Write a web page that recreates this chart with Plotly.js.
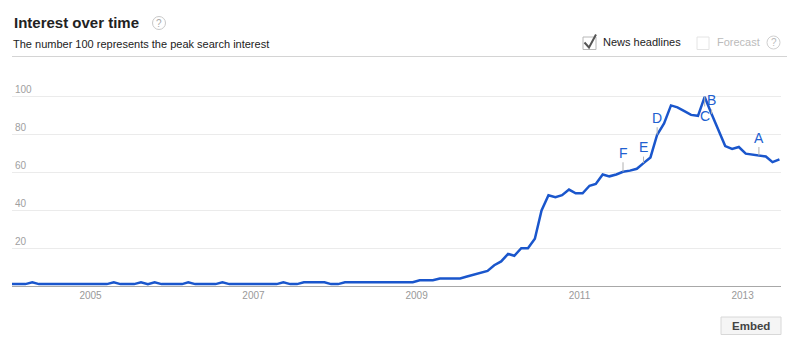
<!DOCTYPE html>
<html><head><meta charset="utf-8">
<script src="https://cdn.plot.ly/plotly-3.0.1.min.js"></script>
<style>html,body{margin:0;padding:0;background:#fff;} #chart{width:809px;height:353px;}</style>
</head><body><div id="chart"></div>
<script>
// ---- data (monthly search interest) ----
const firstYear = 2004;
const values2004 = [1,1,1,2,1,1,1,1,1,1,1,1];
const values2005 = [1,1,1,2,1,1,1,2,1,2,1,1];
const values2006 = [1,1,2,1,1,1,1,2,1,1,1,1];
const values2007 = [1,1,1,1,2,1,1,2,2,2,2,1];
const values2008 = [1,2,2,2,2,2,2,2,2,2,2,2];
const values2009 = [3,3,3,4,4,4,4,5,6,7,8,11];
const values2010 = [13,17,16,20,20,25,40,48,47,48,51,49];
const values2011 = [49,53,54,59,58,59,60.4,61,62,65,68,80];
const values2012 = [86,95.5,94.5,92.5,90.5,90,100,91,82.5,74,72.5,73.5];
const values2013 = [70,69.5,69,68.5,65.5,67];
const yearlyValues = [values2004,values2005,values2006,values2007,values2008,values2009,values2010,values2011,values2012,values2013];
const xTickYears = ['2005','2007','2009','2011','2013'];
const yTickValues = [20,40,60,80,100];
const eventLetters = ['A','B','C','D','E','F'];
const eventMonths  = ['2013-03','2012-08','2012-07','2011-12','2011-10','2011-07'];

// ---- build series ----
const pad = n => (n < 10 ? '0' : '') + n;
const months = [], values = [];
yearlyValues.forEach((arr, yi) => {
  arr.forEach((v, mi) => {
    months.push((firstYear + yi) + '-' + pad(mi + 1) + '-15');
    values.push(v);
  });
});

// ---- layout geometry ----
const W = 809, H = 353, L = 12, R = 28, T = 78, B = 67;
const PW = W - L - R, PH = H - T - B;
const px = x => (x - L) / PW;
const py = y => (H - B - y) / PH;

const lineColor = '#1a56cc';
const fontFam = 'Arial, "Liberation Sans", sans-serif';

const eventOffsets = {A:-18, B:-14, C:19, D:-17, E:-16, F:-19};
const annotations = [];
eventLetters.forEach((letter, k) => {
  const d = eventMonths[k] + '-15';
  const idx = months.indexOf(d);
  annotations.push({
    x: d, y: values[idx], xref: 'x', yref: 'y', text: letter,
    showarrow: true, arrowhead: 0, arrowwidth: 1, arrowcolor: '#b0b0b0',
    ax: 0, ay: eventOffsets[letter], standoff: 0,
    font: {family: fontFam, size: 14, color: '#2160d0'}
  });
});

function txt(x, y, text, size, color, bold, anchor) {
  annotations.push({
    xref: 'paper', yref: 'paper', x: px(x), y: py(y), text: bold ? '<b>' + text + '</b>' : text,
    showarrow: false, xanchor: anchor || 'left', yanchor: 'middle',
    font: {family: fontFam, size: size, color: color}
  });
}
txt(12, 22, 'Interest over time', 15, '#222', true);
txt(159, 23, '?', 10, '#aaa', false, 'center');
txt(11, 44, 'The number 100 represents the peak search interest', 11, '#222', false);
txt(601, 42, 'News headlines', 11, '#222', false);
txt(715, 42, 'Forecast', 11, '#bbb', false);
txt(773.5, 42.5, '?', 10, '#bbb', false, 'center');
txt(751, 326, 'Embed', 11.5, '#444', true, 'center');

const shapes = [
  {type:'line', xref:'paper', yref:'paper', x0:px(12), x1:px(787), y0:py(56.5), y1:py(56.5), line:{color:'#d4d4d4', width:1}},
  {type:'circle', xref:'paper', yref:'paper', x0:px(152.5), x1:px(165.5), y0:py(16.5), y1:py(29.5), line:{color:'#c8c8c8', width:1}},
  {type:'rect', xref:'paper', yref:'paper', x0:px(583), x1:px(596), y0:py(37), y1:py(49.5), line:{color:'#b8b8b8', width:1}, fillcolor:'#fff'},
  {type:'path', xref:'paper', yref:'paper',
   path:'M '+px(584.5)+' '+py(42.5)+' L '+px(589)+' '+py(47.5)+' L '+px(596)+' '+py(34.5),
   line:{color:'#555', width:2}},
  {type:'rect', xref:'paper', yref:'paper', x0:px(697), x1:px(709), y0:py(37), y1:py(49.5), line:{color:'#e4e4e4', width:1}, fillcolor:'#fff'},
  {type:'circle', xref:'paper', yref:'paper', x0:px(767), x1:px(780), y0:py(36), y1:py(49), line:{color:'#d0d0d0', width:1}},
  {type:'rect', xref:'paper', yref:'paper', x0:px(721), x1:px(781), y0:py(317), y1:py(334.5), line:{color:'#d8d8d8', width:1}, fillcolor:'#f5f5f5', layer:'below'}
];

const trace = {
  x: months, y: values, type: 'scatter', mode: 'lines',
  line: {color: lineColor, width: 2.5}, hoverinfo: 'skip'
};

const layout = {
  width: W, height: H,
  margin: {l: L, r: R, t: T, b: B},
  paper_bgcolor: '#fff', plot_bgcolor: '#fff',
  showlegend: false,
  font: {family: fontFam},
  xaxis: {
    type: 'date', range: ['2004-01-15', '2013-06-22'],
    tickvals: xTickYears.map(y => y + '-01-01'), ticktext: xTickYears,
    showgrid: false, zeroline: false, showline: true, linecolor: '#a8a8a8', linewidth: 1,
    ticks: '', tickfont: {size: 10, color: '#999'}, fixedrange: true
  },
  yaxis: {
    range: [0, 110], tickvals: yTickValues, ticktext: yTickValues.map(String),
    showgrid: true, gridcolor: '#ebebeb', gridwidth: 1, zeroline: false, showline: false,
    ticks: '', ticklabelposition: 'inside', ticklabelshift: -7,
    tickfont: {size: 10, color: '#a0a0a0'}, fixedrange: true
  },
  shapes: shapes,
  annotations: annotations
};

Plotly.newPlot('chart', [trace], layout, {displayModeBar: false, staticPlot: true});
</script>
</body></html>
